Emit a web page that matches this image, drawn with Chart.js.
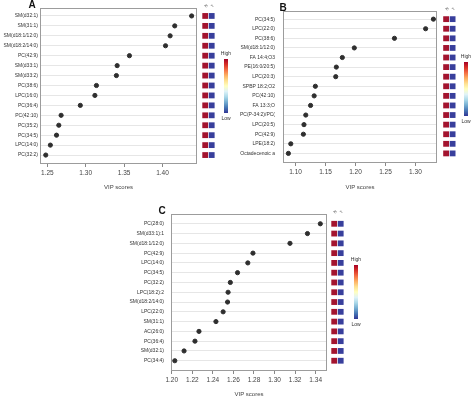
<!DOCTYPE html>
<html>
<head>
<meta charset="utf-8">
<script src="https://cdn.jsdelivr.net/npm/chart.js@4/dist/chart.umd.min.js"></script>
<style>
  html, body { margin: 0; padding: 0; background: #fff; }
  #wrap { position: relative; width: 474px; height: 399px; overflow: hidden; }
  canvas { position: absolute; }
</style>
</head>
<body>
<div id="wrap">
  <canvas id="chartA" width="240" height="200" style="left:0;top:0"></canvas>
  <canvas id="chartB" width="234" height="200" style="left:240px;top:0"></canvas>
  <canvas id="chartC" width="260" height="199" style="left:110px;top:200px"></canvas>
</div>
<script>
// panel A
const labelsA = ['SM(d32:1)', 'SM(31:1)', 'SM(d18:1/12:0)', 'SM(d18:2/14:0)', 'PC(42:9)', 'SM(d33:1)', 'SM(d33:2)',
  'PC(38:6)', 'LPC(16:0)', 'PC(36:4)', 'PC(42:10)', 'PC(35:2)', 'PC(34:5)', 'LPC(14:0)', 'PC(32:2)'];
const vipA = [1.438, 1.416, 1.410, 1.404, 1.357, 1.341, 1.340, 1.314, 1.312, 1.293, 1.268, 1.265, 1.262, 1.254, 1.248];
const ticksA = [1.25, 1.30, 1.35, 1.40];

// panel B
const labelsB = ['PC(34:5)', 'LPC(22:0)', 'PC(38:6)', 'SM(d18:1/12:0)', 'FA 14:4;O3', 'PE(16:0/20:5)', 'LPC(20:3)',
  'SPBP 18:2;O2', 'PC(42:10)', 'FA 13:3;O', 'PC(P-34:2)/PC(', 'LPC(20:5)', 'PC(42:9)', 'LPE(18:2)', 'Octadecenoic a'];
const vipB = [1.330, 1.317, 1.265, 1.198, 1.178, 1.168, 1.167, 1.133, 1.131, 1.125, 1.117, 1.114, 1.113, 1.092, 1.088];
const ticksB = [1.10, 1.15, 1.20, 1.25, 1.30];

// panel C
const labelsC = ['PC(28:0)', 'SM(d33:1):1', 'SM(d18:1/12:0)', 'PC(42:9)', 'LPC(14:0)', 'PC(34:5)', 'PC(32:2)',
  'LPC(18:2):2', 'SM(d18:2/14:0)', 'LPC(22:0)', 'SM(31:1)', 'AC(26:0)', 'PC(36:4)', 'SM(d32:1)', 'PC(34:4)'];
const vipC = [1.3445, 1.332, 1.315, 1.279, 1.274, 1.264, 1.257, 1.2548, 1.2543, 1.250, 1.243, 1.2265, 1.2226, 1.212, 1.203];
const ticksC = [1.20, 1.22, 1.24, 1.26, 1.28, 1.30, 1.32, 1.34];

// heatmap columns (1 = high, -1 = low)
const groups = ['N', 'T'];
const heatA1 = [1, 1, 1, 1, 1, 1, 1, 1, 1, 1, 1, 1, 1, 1, 1];
const heatA2 = [-1, -1, -1, -1, -1, -1, -1, -1, -1, -1, -1, -1, -1, -1, -1];
const heatB1 = [1, 1, 1, 1, 1, 1, 1, 1, 1, 1, 1, 1, 1, 1, 1];
const heatB2 = [-1, -1, -1, -1, -1, -1, -1, -1, -1, -1, -1, -1, -1, -1, -1];
const heatC1 = [1, 1, 1, 1, 1, 1, 1, 1, 1, 1, 1, 1, 1, 1, 1];
const heatC2 = [-1, -1, -1, -1, -1, -1, -1, -1, -1, -1, -1, -1, -1, -1, -1];

const FONT = '"Liberation Sans", Arial, sans-serif';
const rdylbu = ['#a50026', '#d73027', '#f46d43', '#fdae61', '#fee090', '#ffffbf', '#e0f3f8', '#abd9e9', '#74add1', '#4575b4', '#313695'];

function heatColor(v) {
  return v > 0 ? '#a3142f' : '#383f9c';
}

// box, panel letter, heat cells and colour key
const decor = {
  id: 'decor',
  afterDraw(chart, args, o) {
    const { ctx, chartArea: a, scales: { y } } = chart;
    ctx.save();
    ctx.strokeStyle = '#9c9c9c';
    ctx.lineWidth = 1;
    ctx.strokeRect(Math.round(a.left) + 0.5, Math.round(a.top) + 0.5, Math.round(a.width) - 1, Math.round(a.height) - 1);

    ctx.fillStyle = '#111';
    ctx.font = 'bold 10px ' + FONT;
    ctx.textAlign = 'center';
    ctx.textBaseline = 'middle';
    ctx.fillText(o.letter, a.left + o.letterDx, a.top - 3);

    const cw = 5.8;
    const x0 = a.right + o.cellDx;
    o.heat.forEach((col, c) => {
      col.forEach((v, i) => {
        const yc = y.getPixelForValue(i);
        ctx.fillStyle = heatColor(v);
        ctx.fillRect(x0 + c * (cw + 0.7), yc - cw / 2, cw, cw);
      });
      // tiny group names
      ctx.save();
      ctx.translate(x0 + c * (cw + 0.7) + cw / 2, a.top - 1);
      ctx.rotate(-Math.PI / 4);
      ctx.font = '4px ' + FONT;
      ctx.fillStyle = '#444';
      ctx.textAlign = 'left';
      ctx.fillText(groups[c], 0, 0);
      ctx.restore();
    });

    const bx = a.right + 27, bt = a.top + 51, bb = a.top + 105;
    const g = ctx.createLinearGradient(0, bt, 0, bb);
    rdylbu.forEach((col, i) => g.addColorStop(i / (rdylbu.length - 1), col));
    ctx.fillStyle = g;
    ctx.fillRect(bx, bt, 4, bb - bt);
    ctx.fillStyle = '#333';
    ctx.font = '5px ' + FONT;
    ctx.textAlign = 'center';
    ctx.fillText('High', bx + 2, bt - 5);
    ctx.fillText('Low', bx + 2, bb + 6);
    ctx.restore();
  }
};

function makePanel(id, labels, vip, ticks, heat, opt) {
  new Chart(document.getElementById(id), {
    type: 'scatter',
    data: {
      datasets: [{
        data: vip.map((v, i) => ({ x: v, y: i })),
        backgroundColor: '#2e2e2e',
        borderColor: '#2e2e2e',
        pointRadius: 2.1,
        pointHoverRadius: 2.1,
        clip: false
      }]
    },
    options: {
      responsive: false,
      animation: false,
      layout: { padding: { top: opt.top, right: opt.right, left: 0, bottom: 0 } },
      plugins: {
        legend: { display: false },
        tooltip: { enabled: false },
        decor: { letter: opt.letter, letterDx: opt.letterDx, cellDx: opt.cellDx, heat: heat }
      },
      scales: {
        x: {
          type: 'linear',
          min: opt.xmin,
          max: opt.xmax,
          afterBuildTicks: (s) => { s.ticks = ticks.map(v => ({ value: v })); },
          afterFit: (s) => { s.height = opt.xh; },
          grid: { drawOnChartArea: false, drawTicks: true, tickLength: 3, color: '#888' },
          border: { display: false },
          ticks: {
            padding: 2,
            color: '#444',
            font: { family: FONT, size: 6.5 },
            maxRotation: 0,
            callback: (v) => Number(v).toFixed(2)
          },
          title: {
            display: true,
            text: 'VIP scores',
            color: '#444',
            font: { family: FONT, size: 6 },
            padding: { top: 0, bottom: opt.titlePad }
          }
        },
        y: {
          type: 'linear',
          reverse: true,
          min: opt.ymin,
          max: opt.ymax,
          afterBuildTicks: (s) => { s.ticks = labels.map((_, i) => ({ value: i })); },
          afterFit: (s) => { s.width = opt.yw; },
          grid: { color: '#e6e6e6', drawTicks: false },
          border: { display: false },
          ticks: {
            padding: opt.labelPad,
            color: '#333',
            font: { family: FONT, size: 5 },
            autoSkip: false,
            callback: (v) => labels[v] ?? ''
          }
        }
      }
    },
    plugins: [decor]
  });
}

makePanel('chartA', labelsA, vipA, ticksA, [heatA1, heatA2], {
  letter: 'A', letterDx: -8, cellDx: 5.3, top: 8, right: 43, yw: 40, xh: 36, labelPad: 2,
  xmin: 1.2405, xmax: 1.445, ymin: -0.8, ymax: 14.9, titlePad: 9
});
makePanel('chartB', labelsB, vipB, ticksB, [heatB1, heatB2], {
  letter: 'B', letterDx: 0, cellDx: 6.2, top: 8, right: 37, yw: 43, xh: 37, labelPad: 8,
  xmin: 1.079, xmax: 1.336, ymin: -0.85, ymax: 15.0, titlePad: 9
});
makePanel('chartC', labelsC, vipC, ticksC, [heatC1, heatC2], {
  letter: 'C', letterDx: -9, cellDx: 4.3, top: 14, right: 43, yw: 61, xh: 28, labelPad: 7,
  xmin: 1.1993, xmax: 1.351, ymin: -1.0, ymax: 15.05, titlePad: 1.5
});
</script>
</body>
</html>
